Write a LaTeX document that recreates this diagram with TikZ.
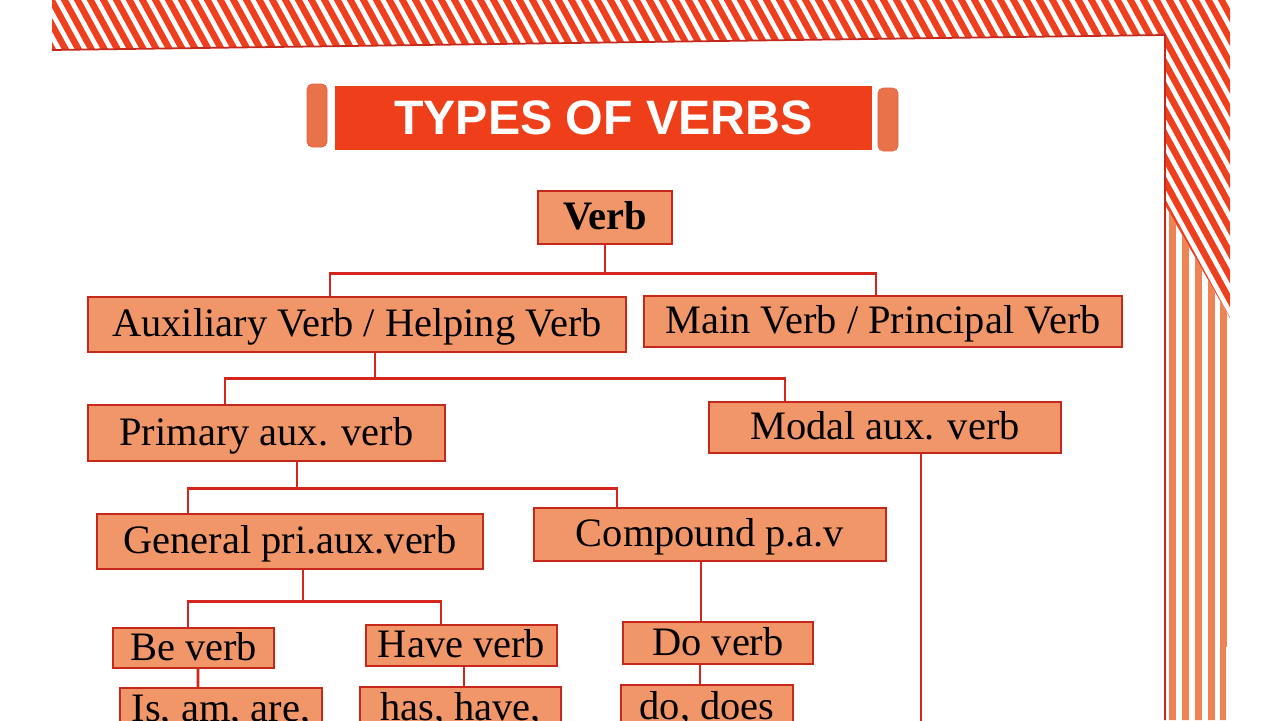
\documentclass[tikz,border=0pt]{standalone}
\usepackage{fontspec}
\setmainfont{Liberation Serif}
\newfontfamily\titlefont{Liberation Sans}
\usetikzlibrary{calc}

\definecolor{stripered}{RGB}{238,64,30}
\definecolor{stripeorange}{RGB}{238,132,84}
\definecolor{boxfill}{RGB}{241,150,104}
\definecolor{boxline}{RGB}{198,40,28}
\definecolor{titlered}{RGB}{238,62,26}
\definecolor{capfill}{RGB}{232,114,74}
\definecolor{linkred}{RGB}{212,38,28}

\begin{document}
\begin{tikzpicture}[x=0.02cm, y=-0.02cm]
\tikzstyle{verb_box}=[rectangle, draw=boxline, fill=boxfill, line width=1.4pt, inner sep=0pt, text height=17pt, text depth=3pt, font=\fontsize{23}{25}\selectfont];
\tikzstyle{title_box}=[rectangle, fill=titlered, text=white, inner sep=0pt, minimum width=10.74cm, minimum height=1.28cm, font=\titlefont\bfseries\fontsize{27.5}{30}\selectfont];
\tikzstyle{link}=[draw=linkred, line width=1.6pt];
\tikzstyle{stripe}=[draw=stripered, line width=0.13cm];

\useasboundingbox (0,0) rectangle (1280,720);
\clip (0,0) rectangle (1280,720);

% striped frame
\begin{scope}
\clip (52,0) -- (1230,0) -- (1230,318) -- (1165,205) -- (1165,35) -- (52,50) -- cycle;
\foreach \i in {0,...,95}
  \draw[stripe] ({20+\i*13},-10) -- ++(230,420);
\end{scope}
\begin{scope}
\clip (1165,205) -- (1230,318) -- (1226,720) -- (1165,720) -- cycle;
\foreach \x in {1169,1182,1195,1208,1220}
  \fill[stripeorange] (\x,200) rectangle ++(7,530);
\end{scope}
\draw[boxline, line width=1pt] (52,50) -- (1165,35) -- (1165,720);

% title
\draw[capfill!80!boxline, fill=capfill, rounded corners=3pt] (307,84) rectangle (327,147);
\draw[capfill!80!boxline, fill=capfill, rounded corners=3pt] (878,88) rectangle (898,151);
\node [title_box] (Title) at (603.5,118) {TYPES OF VERBS};

% boxes
\node [verb_box, minimum width=2.68cm, minimum height=1.06cm, font=\fontsize{23}{25}\selectfont\bfseries] (Verb) at (605,217.5) {Verb};
\node [verb_box, minimum width=10.76cm, minimum height=1.1cm] (Aux) at (357,324.5) {Auxiliary Verb / Helping Verb};
\node [verb_box, minimum width=9.56cm, minimum height=1.02cm] (Main) at (883,321.5) {Main Verb / Principal Verb};
\node [verb_box, minimum width=7.14cm, minimum height=1.12cm] (Primary) at (266.5,433) {Primary aux. verb};
\node [verb_box, minimum width=7.04cm, minimum height=1.02cm] (Modal) at (885,427.5) {Modal aux. verb};
\node [verb_box, minimum width=7.72cm, minimum height=1.1cm] (General) at (290,541.5) {General pri.aux.verb};
\node [verb_box, minimum width=7.04cm, minimum height=1.06cm] (Compound) at (710,534.5) {Compound p.a.v};
\node [verb_box, minimum width=3.22cm, minimum height=0.8cm] (Be) at (193.5,648) {Be verb};
\node [verb_box, minimum width=3.82cm, minimum height=0.82cm] (Have) at (461.5,645.5) {Have verb};
\node [verb_box, minimum width=3.8cm, minimum height=0.84cm] (Do) at (718,643) {Do verb};
\node [verb_box, minimum width=4.04cm, minimum height=0.84cm] (Is) at (221,709) {Is, am, are,};
\node [verb_box, minimum width=4.02cm, minimum height=0.84cm] (Has) at (460.5,708) {has, have,};
\node [verb_box, minimum width=3.44cm, minimum height=0.88cm] (Does) at (707,707) {do, does};

% connectors
\draw[link] (Verb.south) -- ++(0,28) coordinate (b1);
\draw[link] ($(Aux.north)+(-27,0)$) |- (b1) -| ($(Main.north)+(-7,0)$);

\draw[link] ($(Aux.south)+(18,0)$) -- ++(0,25) coordinate (b2);
\draw[link] ($(Primary.north)+(-41.5,0)$) |- (b2) -| ($(Modal.north)+(-100,0)$);

\draw[link] ($(Primary.south)+(30.5,0)$) -- ++(0,26) coordinate (b3);
\draw[link] ($(General.north)+(-102,0)$) |- (b3) -| ($(Compound.north)+(-93,0)$);

\draw[link] ($(General.south)+(13,0)$) -- ++(0,31) coordinate (b4);
\draw[link] ($(Be.north)+(-5.5,0)$) |- (b4) -| ($(Have.north)+(-20.5,0)$);

\draw[link] ($(Compound.south)+(-9,0)$) -- ($(Do.north)+(-17,0)$);
\draw[link] ($(Be.south)+(4.5,0)$) -- ($(Is.north)+(-23,0)$);
\draw[link] ($(Have.south)+(2.5,0)$) -- ($(Has.north)+(3.5,0)$);
\draw[link] ($(Do.south)+(-18,0)$) -- ($(Does.north)+(-7,0)$);
\draw[link] ($(Modal.south)+(36,0)$) -- ++(0,300);

\end{tikzpicture}
\end{document}
